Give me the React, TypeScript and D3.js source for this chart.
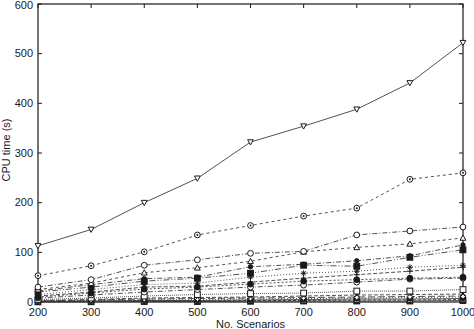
import React, { useEffect, useRef } from 'react';
import * as d3 from 'd3';

const scenarios = [200, 300, 400, 500, 600, 700, 800, 900, 1000];
const xTicks = [200, 300, 400, 500, 600, 700, 800, 900, 1000];
const yTicks = [0, 100, 200, 300, 400, 500, 600];

// one row per run, CPU seconds at each scenario count
const s1 = [113, 146, 200, 249, 322, 354, 388, 441, 522];
const s2 = [53, 73, 101, 135, 154, 173, 189, 247, 260];
const s3 = [30, 45, 74, 85, 98, 102, 135, 143, 151];
const s4 = [25, 38, 59, 69, 82, 101, 110, 117, 129];
const s5 = [22, 35, 47, 50, 71, 76, 83, 93, 115];
const s6 = [20, 30, 42, 48, 58, 74, 72, 90, 105];
const s7 = [15, 25, 35, 38, 50, 58, 62, 70, 74];
const s8 = [12, 20, 30, 32, 40, 48, 55, 62, 70];
const s9 = [10, 18, 26, 30, 36, 42, 45, 48, 50];
const s10 = [8, 14, 20, 25, 30, 34, 40, 46, 48];
const s11 = [5, 8, 12, 15, 17, 18, 22, 22, 25];
const s12 = [3, 5, 8, 9, 10, 12, 14, 15, 16];
const s13 = [2, 4, 6, 7, 8, 9, 10, 11, 12];
const s14 = [1, 3, 4, 5, 6, 7, 8, 9, 10];
const s15 = [1, 2, 3, 3, 4, 5, 6, 6, 7];
const s16 = [0.5, 1, 2, 2, 3, 3, 4, 4, 5];
const s17 = [0.3, 0.5, 1, 1, 1.5, 2, 2, 2, 3];

type Marker = 'tri-down' | 'circle-dot' | 'circle' | 'triangle' | 'dot' | 'fsquare' | 'star' | 'plus' | 'fcircle' | 'square' | 'cross' | 'diamond';

const series: { values: number[]; dash: string; marker: Marker }[] = [
  { values: s1, dash: '', marker: 'tri-down' },
  { values: s2, dash: '3,3', marker: 'circle-dot' },
  { values: s3, dash: '5,2,1,2', marker: 'circle' },
  { values: s4, dash: '3,3', marker: 'triangle' },
  { values: s5, dash: '5,2,1,2', marker: 'dot' },
  { values: s6, dash: '6,2,1,2,1,2', marker: 'fsquare' },
  { values: s7, dash: '1,2', marker: 'star' },
  { values: s8, dash: '4,2', marker: 'plus' },
  { values: s9, dash: '2,2', marker: 'fcircle' },
  { values: s10, dash: '5,2,1,2', marker: 'circle' },
  { values: s11, dash: '1,1', marker: 'square' },
  { values: s12, dash: '4,2', marker: 'cross' },
  { values: s13, dash: '7,3', marker: 'diamond' },
  { values: s14, dash: '1,2', marker: 'plus' },
  { values: s15, dash: '', marker: 'dot' },
  { values: s16, dash: '3,2', marker: 'triangle' },
  { values: s17, dash: '', marker: 'fsquare' },
];

const App: React.FC = () => {
  const svgRef = useRef<SVGSVGElement>(null);

  useEffect(() => {
    if (!svgRef.current) return;
    const svg = d3.select(svgRef.current);
    svg.selectAll('*').remove();

    const left = 38, right = 463, top = 4, bottom = 302;
    const x = d3.scaleLinear().domain([200, 1000]).range([left, right]);
    const y = d3.scaleLinear().domain([0, 600]).range([bottom, top]);
    const font = '"Liberation Sans", Arial, sans-serif';
    const ink = '#1a1a1a';

    // frame
    svg.append('rect')
      .attr('x', left).attr('y', top)
      .attr('width', right - left).attr('height', bottom - top)
      .attr('fill', 'none').attr('stroke', ink).attr('stroke-width', 1.2);

    const tl = 4;
    xTicks.forEach(t => {
      svg.append('line').attr('x1', x(t)).attr('x2', x(t)).attr('y1', bottom).attr('y2', bottom - tl).attr('stroke', ink);
      svg.append('line').attr('x1', x(t)).attr('x2', x(t)).attr('y1', top).attr('y2', top + tl).attr('stroke', ink);
      svg.append('text').attr('x', x(t)).attr('y', 316)
        .attr('text-anchor', 'middle').attr('font-family', font).attr('font-size', 11).attr('fill', ink)
        .text(t);
    });
    yTicks.forEach(t => {
      svg.append('line').attr('x1', left).attr('x2', left + tl).attr('y1', y(t)).attr('y2', y(t)).attr('stroke', ink);
      svg.append('line').attr('x1', right).attr('x2', right - tl).attr('y1', y(t)).attr('y2', y(t)).attr('stroke', ink);
      svg.append('text').attr('x', 33).attr('y', Math.max(y(t) + 3.5, 9))
        .attr('text-anchor', 'end').attr('font-family', font).attr('font-size', 11).attr('fill', ink)
        .text(t);
    });

    svg.append('text').attr('x', (left + right) / 2).attr('y', 328)
      .attr('text-anchor', 'middle').attr('font-family', font).attr('font-size', 11).attr('fill', ink)
      .text('No. Scenarios');
    svg.append('text').attr('transform', `translate(10,150) rotate(-90)`)
      .attr('text-anchor', 'middle').attr('font-family', font).attr('font-size', 11).attr('fill', ink)
      .text('CPU time (s)');

    const line = d3.line<number>().x((_, i) => x(scenarios[i])).y(d => y(d));

    const drawMarker = (g: d3.Selection<SVGGElement, unknown, null, undefined>, m: Marker, cx: number, cy: number) => {
      const r = 2.9;
      const apply = (sel: any, fill: string) => {
        sel.attr('stroke', ink).attr('stroke-width', 1).attr('fill', fill);
      };
      if (m === 'circle' || m === 'circle-dot') {
        apply(g.append('circle').attr('cx', cx).attr('cy', cy).attr('r', r), 'white');
        if (m === 'circle-dot') g.append('circle').attr('cx', cx).attr('cy', cy).attr('r', 1).attr('fill', ink);
      } else if (m === 'fcircle') {
        apply(g.append('circle').attr('cx', cx).attr('cy', cy).attr('r', r), ink);
      } else if (m === 'dot') {
        apply(g.append('circle').attr('cx', cx).attr('cy', cy).attr('r', 2.2), ink);
      } else if (m === 'triangle') {
        apply(g.append('path').attr('d', `M${cx},${cy - r}L${cx + r},${cy + r * 0.8}L${cx - r},${cy + r * 0.8}Z`), 'white');
      } else if (m === 'tri-down') {
        apply(g.append('path').attr('d', `M${cx},${cy + r}L${cx + r},${cy - r * 0.8}L${cx - r},${cy - r * 0.8}Z`), 'white');
      } else if (m === 'square' || m === 'fsquare') {
        apply(g.append('rect').attr('x', cx - r).attr('y', cy - r).attr('width', 2 * r).attr('height', 2 * r), m === 'square' ? 'white' : ink);
      } else if (m === 'diamond') {
        apply(g.append('path').attr('d', `M${cx},${cy - r}L${cx + r},${cy}L${cx},${cy + r}L${cx - r},${cy}Z`), 'white');
      } else if (m === 'plus' || m === 'star') {
        apply(g.append('path').attr('d', `M${cx - r},${cy}H${cx + r}M${cx},${cy - r}V${cy + r}`), 'none');
        if (m === 'star') {
          apply(g.append('path').attr('d', `M${cx - 2},${cy - 2}L${cx + 2},${cy + 2}M${cx - 2},${cy + 2}L${cx + 2},${cy - 2}`), 'none');
        }
      } else if (m === 'cross') {
        apply(g.append('path').attr('d', `M${cx - 2},${cy - 2}L${cx + 2},${cy + 2}M${cx - 2},${cy + 2}L${cx + 2},${cy - 2}`), 'none');
      }
    };

    series.slice().reverse().forEach(s => {
      svg.append('path')
        .attr('d', line(s.values) || '')
        .attr('fill', 'none')
        .attr('stroke', '#333')
        .attr('stroke-width', 0.85)
        .attr('stroke-dasharray', s.dash || null);
      const g = svg.append('g');
      s.values.forEach((v, i) => drawMarker(g, s.marker, x(scenarios[i]), y(v)));
    });
  }, []);

  return (
    <div style={{ position: 'fixed', left: 0, top: 0, background: 'white' }}>
      <svg ref={svgRef} width={474} height={329} style={{ display: 'block' }} />
    </div>
  );
};

export default App;
